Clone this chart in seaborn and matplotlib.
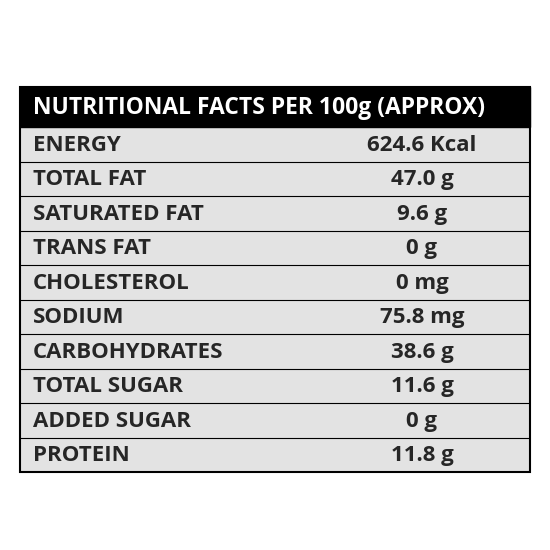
import matplotlib.pyplot as plt
import seaborn as sns
from matplotlib.patches import Rectangle

TITLE = "NUTRITIONAL FACTS PER 100g (APPROX)"
NUTRIENTS = ["ENERGY", "TOTAL FAT", "SATURATED FAT", "TRANS FAT", "CHOLESTEROL",
             "SODIUM", "CARBOHYDRATES", "TOTAL SUGAR", "ADDED SUGAR", "PROTEIN"]
AMOUNTS = ["624.6 Kcal", "47.0 g", "9.6 g", "0 g", "0 mg",
           "75.8 mg", "38.6 g", "11.6 g", "0 g", "11.8 g"]

sns.set_style("white")
plt.rcParams["font.family"] = ["Open Sans", "DejaVu Sans"]

fig = plt.figure(figsize=(5.5, 5.5), dpi=100)
ax = fig.add_axes([0, 0, 1, 1])
ax.set_xlim(0, 550)
ax.set_ylim(550, 0)
ax.axis("off")

left, right, top, bottom = 20, 530, 87, 472
head_h = 40
row_h = (bottom - top - head_h) / len(NUTRIENTS)

ax.add_patch(Rectangle((left, top), right - left, bottom - top,
                       facecolor="#e3e3e3", edgecolor="black", lw=1.5))
ax.add_patch(Rectangle((left, top), right - left, head_h, facecolor="black", edgecolor="black"))
ax.text(left + 13, top + head_h / 2 + 1, TITLE, color="white", fontsize=16.5,
        fontweight="bold", va="center", ha="left")

for i, (name, amt) in enumerate(zip(NUTRIENTS, AMOUNTS)):
    y0 = top + head_h + i * row_h
    if i > 0:
        ax.plot([left, right], [y0, y0], color="black", lw=0.8)
    yc = y0 + row_h / 2 + 1
    ax.text(left + 13, yc, name, fontsize=16, fontweight="bold", va="center", ha="left")
    ax.text(422, yc, amt, fontsize=16, fontweight="bold", va="center", ha="center")

fig.savefig("out.png", dpi=100, facecolor="white")
